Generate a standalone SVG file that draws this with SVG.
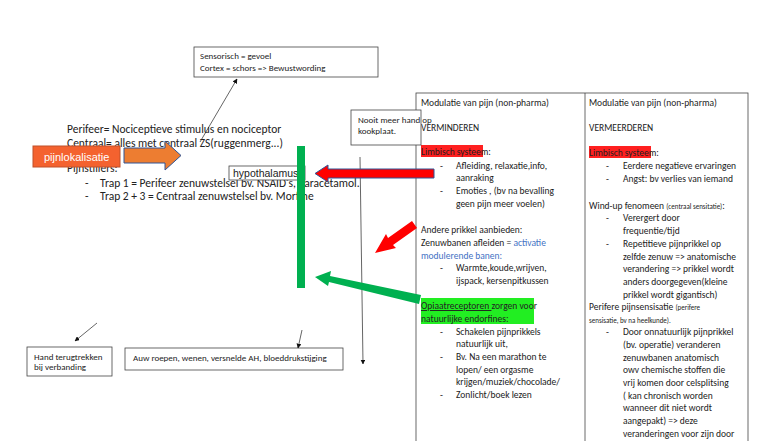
<svg xmlns="http://www.w3.org/2000/svg" width="784" height="441" viewBox="0 0 784 441">
<style>
text{font-family:Carlito,"Liberation Sans",sans-serif;fill:#222}
.s{font-size:9px}.m{font-size:9.5px}.b{font-size:11.5px}
.box{fill:#fff;stroke:#444;stroke-width:0.8}
.ln{stroke:#222;stroke-width:0.7;fill:none}
</style>
<defs><marker id="ah" viewBox="0 0 10 10" refX="9" refY="5" markerWidth="7" markerHeight="7" orient="auto"><path d="M0,0L10,5L0,10z" fill="#111"/></marker></defs>
<rect width="784" height="441" fill="#fff"/>
<g id="table">
<rect x="416" y="93" width="332" height="360" fill="none" stroke="#444" stroke-width="0.8"/>
<line x1="585" y1="93" x2="585" y2="441" stroke="#444" stroke-width="0.8"/>
<rect x="421" y="145" width="62" height="12" fill="#ff2020"/>
<rect x="589" y="146" width="62" height="12" fill="#ff2020"/>
<rect x="421" y="298" width="113" height="26" fill="#22ee22"/>
<g class="m">
<text x="421" y="106">Modulatie van pijn (non-pharma)</text>
<text x="421" y="131">VERMINDEREN</text>
<text x="421" y="155">Limbisch systeem:</text>
<text x="440" y="169">-</text><text x="456" y="169">Afleiding, relaxatie,info,</text>
<text x="456" y="181">aanraking</text>
<text x="440" y="194">-</text><text x="456" y="194">Emoties , (bv na bevalling</text>
<text x="456" y="207">geen pijn meer voelen)</text>
<text x="421" y="233">Andere prikkel aanbieden:</text>
<text x="421" y="246">Zenuwbanen afleiden =  <tspan fill="#4472c4">activatie</tspan></text>
<text x="421" y="259" fill="#4472c4" style="fill:#4472c4">modulerende banen:</text>
<text x="440" y="271">-</text><text x="456" y="271">Warmte,koude,wrijven,</text>
<text x="456" y="284">ijspack, kersenpitkussen</text>
<text x="421" y="309"><tspan text-decoration="underline">Opiaatreceptoren </tspan>zorgen voor</text>
<text x="421" y="322">natuurlijke endorfines:</text>
<text x="440" y="335">-</text><text x="456" y="335">Schakelen pijnprikkels</text>
<text x="456" y="347">natuurlijk uit,</text>
<text x="440" y="360">-</text><text x="456" y="360">Bv. Na een marathon te</text>
<text x="456" y="373">lopen/ een orgasme</text>
<text x="456" y="385">krijgen/muziek/chocolade/</text>
<text x="440" y="398">-</text><text x="456" y="398">Zonlicht/boek lezen</text>
<text x="589" y="106">Modulatie van pijn (non-pharma)</text>
<text x="589" y="131">VERMEERDEREN</text>
<text x="589" y="156">Limbisch systeem:</text>
<text x="606" y="169">-</text><text x="623" y="169">Eerdere negatieve ervaringen</text>
<text x="606" y="182">-</text><text x="623" y="182">Angst: bv verlies van iemand</text>
<text x="589" y="209">Wind-up fenomeen <tspan font-size="7">(centraal sensitatie)</tspan>:</text>
<text x="606" y="221">-</text><text x="623" y="221">Verergert door</text>
<text x="623" y="234">frequentie/tijd</text>
<text x="606" y="247">-</text><text x="623" y="247">Repetitieve pijnprikkel op</text>
<text x="623" y="260">zelfde zenuw =&gt; anatomische</text>
<text x="623" y="272">verandering =&gt; prikkel wordt</text>
<text x="623" y="285">anders doorgegeven(kleine</text>
<text x="623" y="298">prikkel wordt gigantisch)</text>
<text x="589" y="310">Perifere pijnsensisatie <tspan font-size="7">(perifere</tspan></text>
<text x="589" y="323" font-size="7" style="font-size:7px">sensisatie, bv na heelkunde).</text>
<text x="606" y="335">-</text><text x="623" y="335">Door onnatuurlijk pijnprikkel</text>
<text x="623" y="348">(bv. operatie) veranderen</text>
<text x="623" y="361">zenuwbanen anatomisch</text>
<text x="623" y="373">owv chemische stoffen die</text>
<text x="623" y="386">vrij komen door celsplitsing</text>
<text x="623" y="399">( kan chronisch worden</text>
<text x="623" y="411">wanneer dit niet wordt</text>
<text x="623" y="424">aangepakt) =&gt; deze</text>
<text x="623" y="437">veranderingen voor zijn door</text>
</g>
</g>
<g id="maintext" class="b">
<text x="67" y="133">Perifeer= Nociceptieve stimulus en nociceptor</text>
<text x="67" y="147">Centraal= alles met centraal ZS(ruggenmerg...)</text>
<text x="67" y="172">Pijnstillers:</text>
<text x="85" y="187">-</text><text x="100" y="187">Trap 1 = Perifeer zenuwstelsel bv. NSAID's, Paracetamol.</text>
<text x="85" y="200">-</text><text x="100" y="200">Trap 2 + 3 = Centraal zenuwstelsel bv. Morfine</text>
</g>
<g id="sensorisch"><rect class="box" x="194" y="47" width="184" height="30"/>
<text class="s" x="200" y="59">Sensorisch = gevoel</text><text class="s" x="200" y="71">Cortex = schors =&gt; Bewustwording</text></g>
<g id="nooit"><rect class="box" x="351" y="110" width="70" height="35"/>
<text class="s" x="358" y="123">Nooit meer hand op</text><text class="s" x="358" y="134">kookplaat.</text></g>
<g id="pijnlokalisatie"><rect x="33" y="146" width="87" height="21" fill="#f4622f" stroke="#c0502a"/>
<text x="44" y="161" style="fill:#fff;font-family:'Liberation Sans',sans-serif;font-size:11px">pijnlokalisatie</text></g>
<g id="orangearrow"><path d="M124,148H165V141L181,155.5L165,170V163H124Z" fill="#ed7d31" stroke="#2f5597" stroke-width="1"/></g>
<g id="hypothalamus"><rect class="box" x="229" y="166" width="76" height="14"/>
<text x="233" y="177" style="font-size:10.5px;font-family:'Liberation Sans',sans-serif">hypothalamus</text></g>
<rect id="greenbar" x="297" y="146" width="8" height="142" fill="#00b050"/>
<g id="hand"><rect class="box" x="27" y="347" width="85" height="29"/>
<text class="s" x="34" y="360">Hand terugtrekken</text><text class="s" x="34" y="370">bij verbanding</text></g>
<g id="auw"><rect class="box" x="125" y="348" width="218" height="22"/>
<text class="s" x="133" y="361">Auw roepen, wenen, versnelde AH, bloeddrukstijging</text></g>
<g id="connectors">
<line class="ln" x1="200" y1="142" x2="237" y2="79" marker-end="url(#ah)"/>
<line class="ln" x1="360" y1="157" x2="363" y2="364" marker-end="url(#ah)"/>
<line class="ln" x1="97" y1="323" x2="75" y2="341" marker-end="url(#ah)"/>
<line class="ln" x1="302" y1="330" x2="298" y2="348" marker-end="url(#ah)"/>
<path d="M434,169H328V165L315,173.5L328,182V178H434Z" fill="#ff0000" stroke="#2f5597" stroke-width="1"/>
<path d="M412,221L388,238L386,234L375,253L396,248L393,245L417,228Z" fill="#ff0000"/>
<path d="M421,295L330,276L331,271L315,277L328,286L329,282L419,304Z" fill="#00b050"/>
</g>
</svg>
